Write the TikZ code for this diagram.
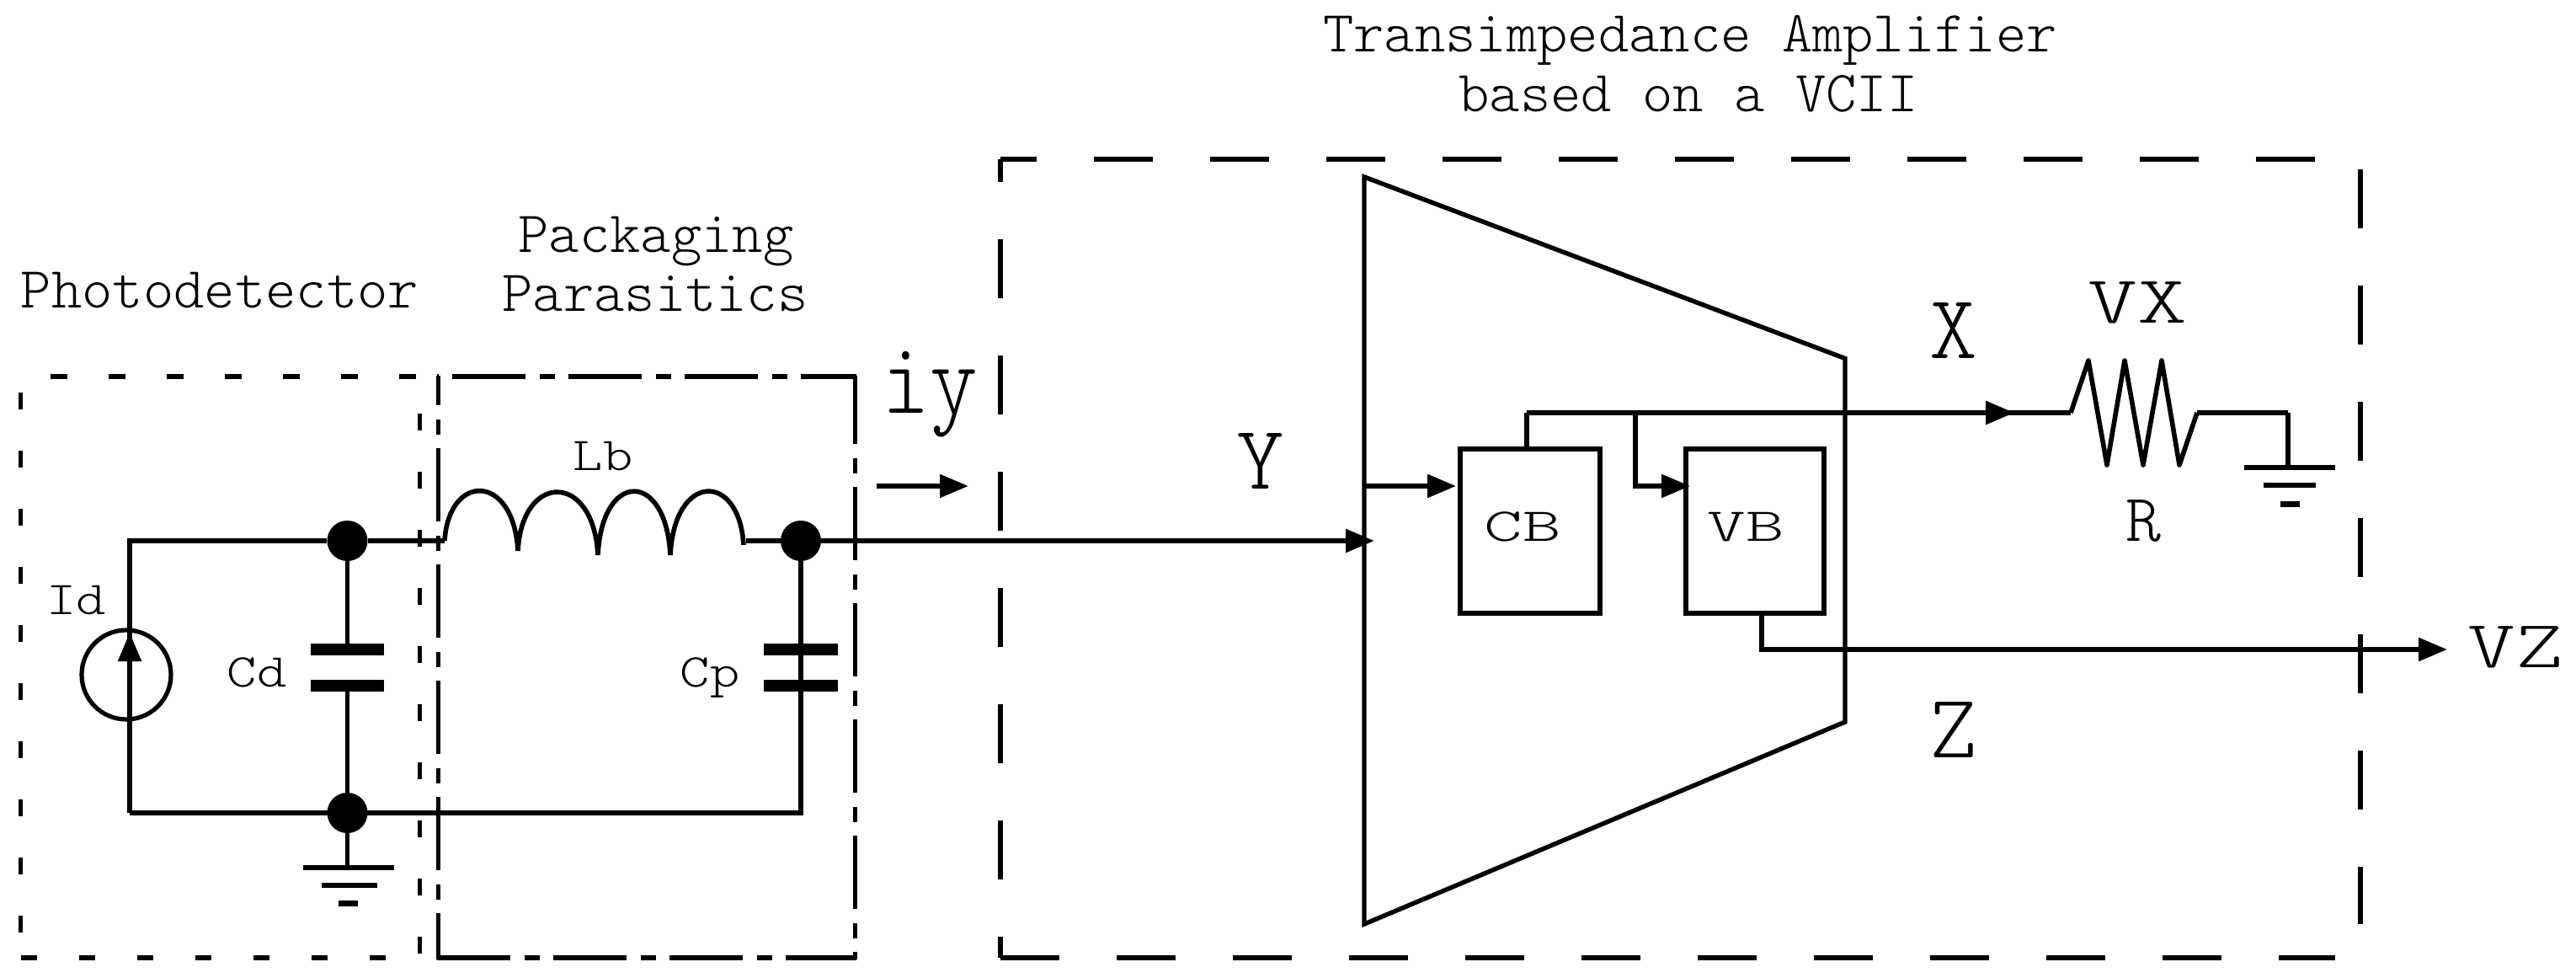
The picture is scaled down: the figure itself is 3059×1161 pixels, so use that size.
\documentclass[tikz,border=0pt]{standalone}
\usepackage{fontspec}
\usepackage{graphicx}
\setmonofont{Latin Modern Mono Light}
\usetikzlibrary{arrows.meta}
\tikzset{
  wire/.style={line width=3pt,line join=miter},
  thin wire/.style={line width=2.8pt},
  tipped/.style={-{Triangle[length=17pt,width=13.5pt]}},
  dot/.style={circle,fill=black,draw=none,inner sep=0pt,minimum size=24pt},
  plate/.style={line width=7pt},
  short dash/.style={line width=2.7pt,dash pattern=on 9.75pt off 24.75pt},
  dash dot/.style={line width=2.7pt,dash pattern=on 43.75pt off 8.25pt on 9pt off 8pt},
  long dash/.style={line width=2.7pt,dash pattern=on 35pt off 34pt},
  lbl/.style={inner sep=0pt,anchor=base,font=\ttfamily},
  cap14/.style={lbl,font=\ttfamily\fontsize{34.6}{40}\selectfont},
  cap10/.style={lbl,font=\ttfamily\fontsize{28}{32}\selectfont},
  cap20/.style={lbl,font=\ttfamily\fontsize{40}{44}\selectfont},
  cap27/.style={lbl,font=\ttfamily\fontsize{54}{60}\selectfont},
}
\begin{document}
\begin{tikzpicture}[x=0.5pt,y=-0.5pt]
\useasboundingbox (0,0) rectangle (3059,1161);
% photodetector box
\draw[short dash] (60,447) -- (498.5,447);
\draw[short dash] (24.5,466) -- (24.5,1137);
\draw[short dash] (24.5,1137) -- (498.5,1137);
\draw[short dash] (498.5,491) -- (498.5,1137);
% packaging box
\draw[dash dot,dash phase=60pt] (518.5,447) -- (1017,447);
\draw[dash dot,dash phase=26pt] (520.5,445.5) -- (520.5,1138.5);
\draw[dash dot] (518.5,1137) -- (1017,1137);
\draw[dash dot,dash phase=3pt] (1015.5,445.5) -- (1015.5,1138.5);
% TIA box
\draw[long dash,dash phase=13.5pt] (1188,189) -- (2773,189);
\draw[long dash,dash phase=21.5pt] (1188,189) -- (1188,1137);
\draw[long dash] (1188,1137) -- (2773,1137);
\draw[long dash] (2803,201) -- (2803,1097);
% junctions
\node[dot] (n1) at (412.5,642) {};
\node[dot] (n2) at (951,642) {};
\node[dot] (n3) at (412.5,965) {};
% named points
\coordinate (tl) at (154,642);
\coordinate (bl) at (154,965);
\coordinate (br) at (951,965);
\coordinate (l0) at (528,642);
\coordinate (l1) at (615,654);
\coordinate (l2) at (710,659);
\coordinate (l3) at (796,659);
\coordinate (l4) at (883,647);
\coordinate (ytip) at (1632,642);
\coordinate (l5) at (886,642);
% source
\node[circle,draw=black,line width=2.6pt,inner sep=0pt,minimum size=53pt] (src) at (150,801) {};
\draw[wire] (l0) -- (n1) -- (tl) -- (bl);
\draw[thin wire] (bl) -- (br) -- (n2);
\draw[tipped,line width=2.6pt] (154,810) -- (154,751);
% inductor
\draw[line width=2.8pt] (l0) .. controls (533,561) and (610,561) .. (l1)
  .. controls (620,560) and (705,560) .. (l2)
  .. controls (715,558) and (791,558) .. (l3)
  .. controls (801,560) and (878,560) .. (l4);
\draw[wire] (l5) -- (n2);
\draw[wire,tipped] (n2) -- (ytip);
% capacitors
\coordinate (c1a) at (412.5,770); \coordinate (c1b) at (412.5,813);
\coordinate (c2a) at (951,770); \coordinate (c2b) at (951,813);
\draw[thin wire] (n1) -- (c1a) (c1b) -- (n3);
\draw[thin wire] (n2) -- (c2a) (c2b) -- (br);
\draw[plate] (369,771) -- (456,771) (369,814) -- (456,814);
\draw[plate] (907,771) -- (995,771) (907,814) -- (995,814);
% ground 1
\coordinate (g1) at (412.5,1030);
\draw[thin wire] (n3) -- (g1);
\draw[line width=3pt] (360,1030) -- (468,1030);
\draw[line width=2.7pt] (382,1051) -- (448,1051);
\draw[line width=3.5pt] (402,1072) -- (425,1072);
% iy arrow
\coordinate (iya) at (1041,577); \coordinate (iyb) at (1150,577);
\draw[line width=2.6pt,tipped] (iya) -- (iyb);
% trapezoid
\draw[line width=2.7pt,line join=miter] (1620,210) -- (2191,425.5) -- (2191,857) -- (1620,1097) -- cycle;
% blocks
\node[draw=black,line width=2.7pt,minimum width=83pt,minimum height=97.5pt,inner sep=0pt] (cb) at (1817,630.5) {};
\node[draw=black,line width=2.7pt,minimum width=82pt,minimum height=97.5pt,inner sep=0pt] (vb) at (2084,630.5) {};
\coordinate (cbin) at (1620,577);
\coordinate (cbtip) at (1729,577);
\coordinate (vbtip) at (2007,577);
\coordinate (xa) at (1813,490);
\coordinate (xb) at (1942,490);
\coordinate (xc) at (2392,490);
\coordinate (r0) at (2459,490);
\coordinate (r1) at (2609,490);
\coordinate (gr) at (2717,490);
\coordinate (gr2) at (2717,555);
\draw[thin wire,tipped] (cbin) -- (cbtip);
\draw[thin wire] (cb.north -| xa) -- (xa);
\draw[wire] (xa) -- (r0);
\draw[wire,tipped] (xa) -- (xc);
\draw[thin wire,tipped] (xb) -- (1942,577) -- (vbtip);
\draw[thin wire,tipped] (vb.south -| 2092,0) -- (2092,771) -- (2906,771);
% resistor
\draw[line width=2.8pt,line join=round] (r0) -- (2480,428) -- (2502,552) -- (2523,428) -- (2545,552) -- (2567,428) -- (2588,552) -- (r1);
\draw[wire] (r1) -- (gr);
\draw[thin wire] (gr) -- (gr2);
\draw[line width=3pt] (2665,555) -- (2773,555);
\draw[line width=2.7pt] (2688,576) -- (2750,576);
\draw[line width=3.5pt] (2708,598) -- (2731,598);
% text
\node[cap14] (t1) at (261,365) {Photodetector};
\node[cap14] (t2) at (779,299) {Packaging};
\node[cap14] (t3) at (778,369) {Parasitics};
\node[cap14] (t4) at (2007,62) {Transimpedance Amplifier};
\node[cap14] (t5) at (2005,133) {based on a VCII};
\node[cap10] (t6) at (91,729) {\scalebox{1.2}[1]{Id}};
\node[cap10] (t7) at (305,815) {\scalebox{1.2}[1]{Cd}};
\node[cap10] (t8) at (843,815) {\scalebox{1.2}[1]{Cp}};
\node[cap10] (t9) at (716,558) {\scalebox{1.2}[1]{Lb}};
\node[cap27] (t10) at (1104,490) {\scalebox{1}[1.12]{iy}};
\node[cap27] (t11) at (1497,580) {Y};
\node[cap27] (t12) at (2320,425) {X};
\node[cap27] (t13) at (2320,899) {Z};
\node[cap20] (t14) at (2538,383) {\scalebox{1.4}[1]{VX}};
\node[cap20] (t15) at (2545,642) {R};
\node[cap20] (t16) at (2987,792) {\scalebox{1.35}[1]{VZ}};
\node[cap10] (t17) at (1808,642) {\scalebox{1.55}[1]{CB}};
\node[cap10] (t18) at (2073,642) {\scalebox{1.55}[1]{VB}};
\end{tikzpicture}
\end{document}
